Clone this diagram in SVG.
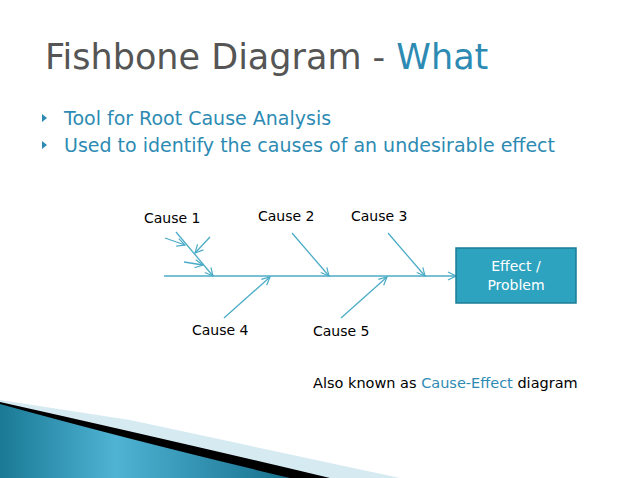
<svg xmlns="http://www.w3.org/2000/svg" width="638" height="478" viewBox="0 0 638 478">
<defs>
<marker id="ah" markerWidth="10" markerHeight="10" refX="9" refY="5" orient="auto" markerUnits="userSpaceOnUse"><path d="M1,1 L9,5 L1,9" fill="none" stroke="#4bacc6" stroke-width="1.2"/></marker>
<linearGradient id="g" x1="0" y1="0" x2="1" y2="0"><stop offset="0" stop-color="#1a7a95"/><stop offset="0.4" stop-color="#4fb3d4"/><stop offset="1" stop-color="#16708c"/></linearGradient>
</defs>
<style>
.b{stroke:#4bacc6;stroke-width:1.3;fill:none;marker-end:url(#ah)}
.t{font-family:"DejaVu Sans",sans-serif;font-size:14px;fill:#000}
.h{font-family:"DejaVu Sans",sans-serif;font-size:19px;fill:#2d8bb3}
</style>
<rect width="638" height="478" fill="#fff"/>
<text x="45" y="69" font-family="'DejaVu Sans',sans-serif" font-size="35" fill="#555">Fishbone Diagram - <tspan fill="#2d8bb3">What</tspan></text>
<g id="bullets">
<path d="M42,114 l5,4 l-5,4z M42,141 l5,4 l-5,4z" fill="#2d8bb3"/>
<text class="h" x="64" y="125">Tool for Root Cause Analysis</text>
<text class="h" x="64" y="152">Used to identify the causes of an undesirable effect</text>
</g>
<g id="connectors">
<line class="b" x1="164" y1="276" x2="456" y2="276"/>
<line class="b" x1="176" y1="232" x2="213" y2="276"/>
<line class="b" x1="165" y1="238" x2="185" y2="245"/>
<line class="b" x1="210" y1="237" x2="195" y2="253"/>
<line class="b" x1="184" y1="262" x2="203" y2="265"/>
<line class="b" x1="292" y1="233" x2="329" y2="276"/>
<line class="b" x1="388" y1="233" x2="425" y2="276"/>
<line class="b" x1="224" y1="318" x2="270" y2="277"/>
<line class="b" x1="341" y1="318" x2="387" y2="277"/>
</g>
<g id="effect">
<rect x="456" y="248" width="120" height="55" fill="#2ea3bf" stroke="#1d7d96" stroke-width="1.5"/>
<text x="516" y="271" text-anchor="middle" font-family="'DejaVu Sans',sans-serif" font-size="14" fill="#fff">Effect /</text>
<text x="516" y="290" text-anchor="middle" font-family="'DejaVu Sans',sans-serif" font-size="14" fill="#fff">Problem</text>
</g>
<g id="cause1"><text class="t" x="144" y="223">Cause 1</text></g>
<g id="cause2"><text class="t" x="258" y="221">Cause 2</text></g>
<g id="cause3"><text class="t" x="351" y="221">Cause 3</text></g>
<g id="cause4"><text class="t" x="192" y="335">Cause 4</text></g>
<g id="cause5"><text class="t" x="313" y="336">Cause 5</text></g>
<text x="313" y="388" font-family="'DejaVu Sans',sans-serif" font-size="14.5" fill="#000">Also known as <tspan fill="#2d8bb3">Cause-Effect</tspan> diagram</text>
<g id="deco">
<path d="M0,400 L130,420 L400,478 L0,478Z" fill="#d6eaf2"/>
<path d="M0,402 Q170,440 330,478 L0,478Z" fill="#000"/>
<path d="M0,404 Q130,440 290,478 L0,478Z" fill="url(#g)"/>
</g>
</svg>
